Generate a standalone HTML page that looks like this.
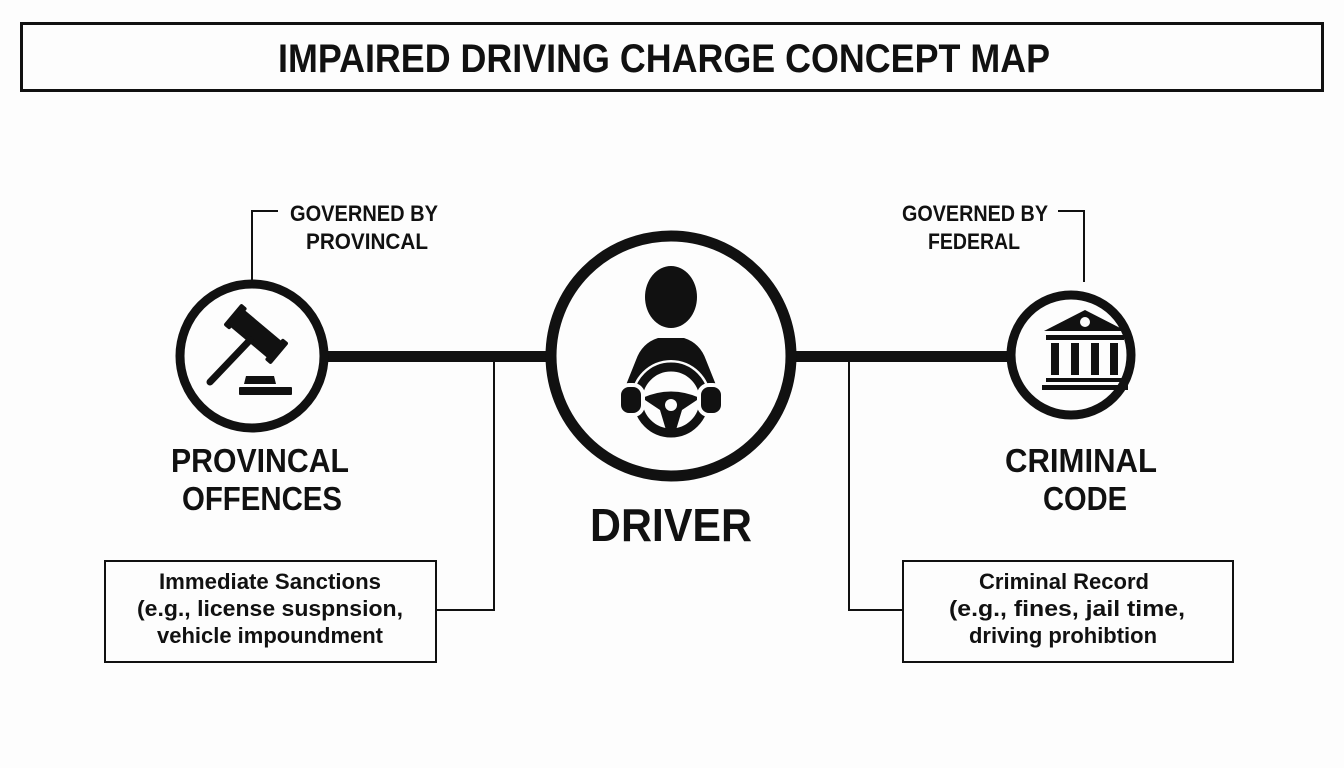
<!DOCTYPE html>
<html><head><meta charset="utf-8"><style>
html,body{margin:0;padding:0;background:#fdfdfd;}
svg{display:block}
text{font-family:"Liberation Sans",sans-serif;font-weight:bold;fill:#111;}
</style></head><body>
<svg width="1344" height="768" viewBox="0 0 1344 768" xmlns="http://www.w3.org/2000/svg">
<rect x="0" y="0" width="1344" height="768" fill="#fdfdfd"/>
<rect x="21.5" y="23.5" width="1301" height="67" fill="none" stroke="#111" stroke-width="3"/>
<text x="664" y="72" font-size="40" text-anchor="middle" textLength="772" lengthAdjust="spacingAndGlyphs">IMPAIRED DRIVING CHARGE CONCEPT MAP</text>

<g stroke="#111" stroke-width="2" fill="none">
<polyline points="252,282 252,211 278,211"/>
<polyline points="1084,282 1084,211 1058,211"/>
<polyline points="494,360 494,610 436,610"/>
<polyline points="849,360 849,610 903,610"/>
<rect x="105" y="561" width="331" height="101"/>
<rect x="903" y="561" width="330" height="101"/>
</g>
<rect x="320" y="351" width="700" height="11" fill="#111"/>
<circle cx="252" cy="356" r="72" fill="#fdfdfd" stroke="#111" stroke-width="9"/>
<circle cx="671" cy="356" r="120" fill="#fdfdfd" stroke="#111" stroke-width="11"/>
<circle cx="1071" cy="355" r="60" fill="#fdfdfd" stroke="#111" stroke-width="9"/>

<g fill="#111">
<g transform="translate(256,334) rotate(40)">
<rect x="-26" y="-11" width="52" height="22" rx="2"/>
<rect x="-31" y="-14" width="8" height="28" rx="2"/>
<rect x="23" y="-14" width="8" height="28" rx="2"/>
</g>
<line x1="250" y1="340" x2="210" y2="382" stroke="#111" stroke-width="7" stroke-linecap="round"/>
<path d="M246 376 L274 376 L276 384 L244 384 Z"/>
<rect x="239" y="387" width="53" height="8" rx="1"/>
</g>

<g fill="#111">
<ellipse cx="671" cy="297" rx="26" ry="31"/>
<path d="M636 360 Q642 343 658 338 L684 338 Q700 343 706 360 L722 400 L620 400 Z"/>
<circle cx="671" cy="400" r="40" fill="#fdfdfd"/>
<circle cx="671" cy="400" r="33" fill="none" stroke="#111" stroke-width="9"/>
<path d="M642 398 Q671 385 700 398 L682 410 L676 430 L666 430 L660 410 Z"/>
<circle cx="671" cy="405" r="6" fill="#fdfdfd"/>
<rect x="619" y="385" width="24" height="30" rx="10" stroke="#fdfdfd" stroke-width="4"/>
<rect x="699" y="385" width="24" height="30" rx="10" stroke="#fdfdfd" stroke-width="4"/>
</g>

<g fill="#111">
<path d="M1085 310 L1126 331 L1044 331 Z"/>
<circle cx="1085" cy="322" r="5" fill="#fdfdfd"/>
<rect x="1046" y="335" width="78" height="5"/>
<rect x="1051" y="343" width="8" height="32"/>
<rect x="1071" y="343" width="8" height="32"/>
<rect x="1091" y="343" width="8" height="32"/>
<rect x="1110" y="343" width="8" height="32"/>
<rect x="1046" y="378" width="78" height="4"/>
<rect x="1042" y="385" width="86" height="5"/>
</g>

<text x="364" y="221" font-size="22" text-anchor="middle" textLength="148" lengthAdjust="spacingAndGlyphs">GOVERNED BY</text>
<text x="367" y="249" font-size="22" text-anchor="middle" textLength="122" lengthAdjust="spacingAndGlyphs">PROVINCAL</text>
<text x="975" y="221" font-size="22" text-anchor="middle" textLength="146" lengthAdjust="spacingAndGlyphs">GOVERNED BY</text>
<text x="974" y="249" font-size="22" text-anchor="middle" textLength="92" lengthAdjust="spacingAndGlyphs">FEDERAL</text>

<text x="260" y="472" font-size="33" text-anchor="middle" textLength="178" lengthAdjust="spacingAndGlyphs">PROVINCAL</text>
<text x="262" y="510" font-size="33" text-anchor="middle" textLength="160" lengthAdjust="spacingAndGlyphs">OFFENCES</text>
<text x="1081" y="472" font-size="33" text-anchor="middle" textLength="152" lengthAdjust="spacingAndGlyphs">CRIMINAL</text>
<text x="1085" y="510" font-size="33" text-anchor="middle" textLength="84" lengthAdjust="spacingAndGlyphs">CODE</text>
<text x="671" y="541" font-size="46" text-anchor="middle" textLength="162" lengthAdjust="spacingAndGlyphs">DRIVER</text>

<g font-size="22">
<text x="270" y="589" text-anchor="middle" textLength="222" lengthAdjust="spacingAndGlyphs">Immediate Sanctions</text>
<text x="270" y="616" text-anchor="middle" textLength="266" lengthAdjust="spacingAndGlyphs">(e.g., license suspnsion,</text>
<text x="270" y="643" text-anchor="middle" textLength="226" lengthAdjust="spacingAndGlyphs">vehicle impoundment</text>
<text x="1064" y="589" text-anchor="middle" textLength="170" lengthAdjust="spacingAndGlyphs">Criminal Record</text>
<text x="1067" y="616" text-anchor="middle" textLength="236" lengthAdjust="spacingAndGlyphs">(e.g., fines, jail time,</text>
<text x="1063" y="643" text-anchor="middle" textLength="188" lengthAdjust="spacingAndGlyphs">driving prohibtion</text>
</g>
</svg>
</body></html>
